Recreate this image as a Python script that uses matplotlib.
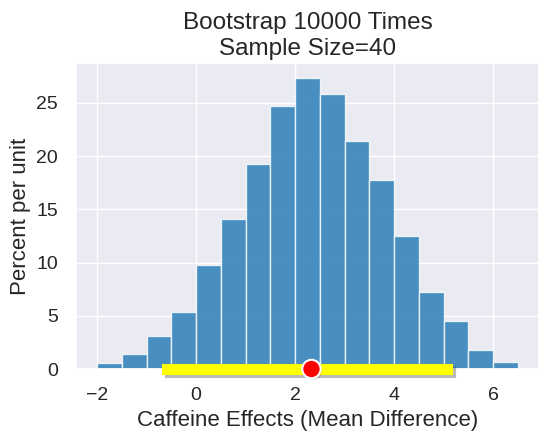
"""Bootstrap distribution of caffeine effect with 95% interval and observed value."""

import matplotlib

matplotlib.use("Agg")
import matplotlib.pyplot as plt
import matplotlib.patheffects as pe
import numpy as np
import seaborn as sns

# histogram bins (left edges, width 0.5) and heights in percent per unit
bin_edges = [-2.0, -1.5, -1.0, -0.5, 0.0, 0.5, 1.0, 1.5, 2.0, 2.5,
             3.0, 3.5, 4.0, 4.5, 5.0, 5.5, 6.0, 6.5]
percent_per_unit = [0.56, 1.41, 3.10, 5.36, 9.78, 14.1, 19.28, 24.73, 27.37,
                    25.86, 21.44, 17.77, 12.51, 7.24, 4.51, 1.79, 0.66]

ci_left = -0.59
ci_right = 5.07
observed = 2.33

sns.set_theme(style="darkgrid")
plt.rcParams["font.family"] = ["Liberation Sans", "DejaVu Sans"]

fig = plt.figure(figsize=(5.49, 4.41), dpi=100)
ax = fig.add_axes([76 / 549, 72 / 441, 463 / 549, 306 / 441])

edges = np.array(bin_edges)
ax.bar(edges[:-1], percent_per_unit, width=np.diff(edges), align="edge",
       color="#1f77b4", alpha=0.8, edgecolor="white", linewidth=1)

ax.plot([ci_left, ci_right], [0, 0], color="yellow", lw=8, zorder=4,
        solid_capstyle="projecting", clip_on=False,
        path_effects=[pe.SimpleLineShadow(), pe.Normal()])
ax.scatter([observed], [0], color="red", s=175, edgecolor="white",
           linewidth=1.5, zorder=5, clip_on=False,
           path_effects=[pe.SimplePatchShadow(offset=(1, -1), alpha=0.2), pe.Normal()])

ax.set_xticks([-2, 0, 2, 4, 6])
ax.set_yticks([0, 5, 10, 15, 20, 25])
ax.tick_params(labelsize=14, length=0, pad=13)
ax.set_xlabel("Caffeine Effects (Mean Difference)", fontsize=16, labelpad=4)
ax.set_ylabel("Percent per unit", fontsize=16, labelpad=4)
ax.set_title("Bootstrap 10000 Times\nSample Size=40", fontsize=17.5)

fig.savefig("out.png", dpi=100)
